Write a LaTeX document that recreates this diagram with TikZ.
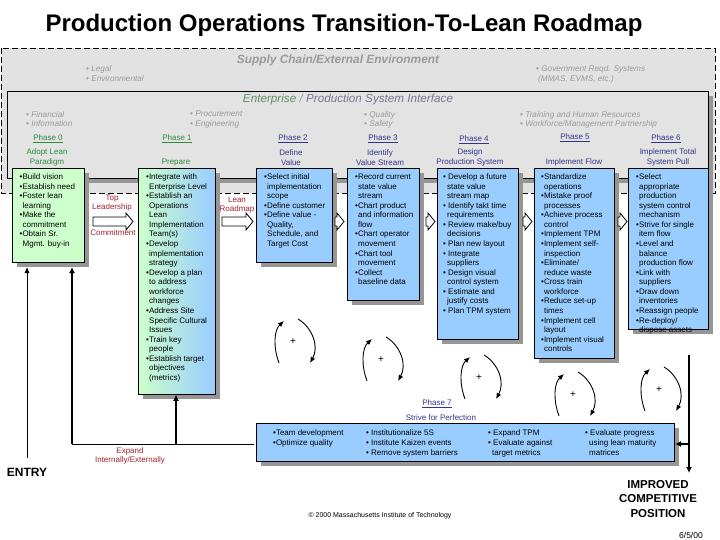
\documentclass[tikz,border=0pt]{standalone}
\usepackage{fontspec}
\setmainfont{Liberation Sans}
\usetikzlibrary{arrows.meta, shadows}
\definecolor{boxgreen}{HTML}{CCFFCC}
\definecolor{boxblue}{HTML}{99CCFF}
\definecolor{shadowgray}{HTML}{969696}
\definecolor{bandgray}{HTML}{E2E2E2}
\definecolor{softgray}{HTML}{9A9A9A}
\definecolor{phasegreen}{HTML}{2E8B3A}
\definecolor{phasenavy}{HTML}{33338C}
\definecolor{notered}{HTML}{A0202C}
\newcommand{\tinyfont}{\fontsize{8}{9.57}\selectfont}
\tikzset{
	blockbox/.style={draw=black, line width=0.8pt, anchor=north west, inner sep=0pt,
		drop shadow={shadow xshift=5pt, shadow yshift=-5pt, fill=shadowgray, opacity=1}},
	listtext/.style={anchor=north west, align=left, inner sep=0pt, font=\tinyfont},
	softtext/.style={listtext, text=softgray, font=\fontsize{8.2}{9.8}\selectfont\itshape},
	phasetext/.style={inner sep=0pt, font=\tinyfont},
	rednote/.style={inner sep=0pt, align=center, text=notered, font=\tinyfont},
	bigarrow/.style={draw=black, fill=white, line width=0.8pt},
	thinflow/.style={line width=0.9pt, -{Latex[length=6pt,width=5pt]}},
	thickflow/.style={line width=1.8pt, -{Latex[length=6pt,width=6pt]}},
	cyclearrow/.style={line width=0.9pt, -{Latex[length=6pt,width=5pt]}},
}

\begin{document}
\begin{tikzpicture}[x=1pt, y=-1pt, line cap=butt, line join=miter]
\useasboundingbox (0,0) rectangle (720,540);

\node[inner sep=0pt, font=\fontsize{24}{26}\selectfont\bfseries] (title) at (344,25.5)
	{Production Operations Transition-To-Lean Roadmap};

% ================= Bands =================
\fill[bandgray] (1,48) rectangle (715,193);
\draw[dashed, line width=0.8pt, dash pattern=on 6pt off 3pt] (1,48) rectangle (715,193);
\fill[shadowgray] (12,96) rectangle (713,183);
\fill[bandgray!95!white, draw=black, line width=0.8pt] (7,91) rectangle (708,178);

\node[inner sep=0pt, text=softgray, font=\fontsize{11.9}{13}\selectfont\bfseries\itshape] (supply) at (338,60)
	{Supply Chain/External Environment};
\node[softtext] (legal) at (86,65.5) {• Legal\\• Environmental};
\node[softtext] (government) at (536,65.5) {• Government Reqd. Systems\\\hspace*{2pt}(MMAS, EVMS, etc.)};
\node[inner sep=0pt, font=\fontsize{11.7}{13}\selectfont\itshape] (interface) at (348,99.5)
	{\textcolor{phasegreen!60!softgray}{Enterprise} \textcolor{softgray}{/} \textcolor{phasenavy!35!softgray}{Production System Interface}};
\node[softtext] (financial) at (26,111) {• Financial\\• Information};
\node[softtext] (procurement) at (190,111) {• Procurement\\• Engineering};
\node[softtext] (quality) at (364,111) {• Quality\\• Safety};
\node[softtext] (training) at (520,111) {• Training and Human Resources\\• Workforce/Management Partnership};

% ================= Phase headings =================
\foreach \px/\py/\pnum/\pcol in {48/138.5/0/phasegreen, 177/138.5/1/phasegreen, 293/138.5/2/phasenavy,
	383/138.5/3/phasenavy, 474/139.5/4/phasenavy, 575/137.5/5/phasenavy, 666/138.5/6/phasenavy, 437/403.5/7/phasenavy}
	\node[phasetext, text=\pcol] (phase\pnum) at (\px,\py) {\underline{Phase \pnum}};

\node[rednote, text=phasegreen] (adopt) at (47,157.5) {Adopt Lean\\Paradigm};
\node[rednote, text=phasegreen] (prepare) at (176,162.5) {Prepare};
\node[rednote, text=phasenavy] (define) at (291,157.5) {Define\\Value};
\node[rednote, text=phasenavy] (identify) at (380,157.5) {Identify\\Value Stream};
\node[rednote, text=phasenavy] (design) at (470,157.5) {Design\\Production System};
\node[rednote, text=phasenavy] (flow) at (574,162.5) {Implement Flow};
\node[rednote, text=phasenavy] (pull) at (668,157.5) {Implement Total\\System Pull};
\node[rednote, text=phasenavy] (strive) at (441,418) {Strive for Perfection};

% ================= Phase boxes =================
\node[blockbox, fill=boxgreen, minimum width=72pt, minimum height=94pt] (box0) at (12,168) {};
\node[blockbox, left color=boxgreen, right color=boxblue, minimum width=77pt, minimum height=226pt] (box1) at (138,168) {};
\node[blockbox, fill=boxblue, minimum width=76pt, minimum height=94pt] (box2) at (256,168) {};
\node[blockbox, fill=boxblue, minimum width=72pt, minimum height=132pt] (box3) at (347,168) {};
\node[blockbox, fill=boxblue, minimum width=81pt, minimum height=171pt] (box4) at (437,168) {};
\node[blockbox, fill=boxblue, minimum width=80pt, minimum height=190pt] (box5) at (534,168) {};
\node[blockbox, fill=boxblue, minimum width=80pt, minimum height=161pt] (box6) at (628,168) {};
\node[blockbox, fill=boxblue, minimum width=418pt, minimum height=38pt] (box7) at (256,423) {};

\node[listtext] (text0) at (19.5,173.5) {•Build vision\\•Establish need\\•Foster lean\\\hspace*{3pt}learning\\•Make the\\\hspace*{3pt}commitment\\•Obtain Sr.\\\hspace*{3pt}Mgmt. buy-in};
\node[listtext] (text1) at (146,173.5) {•Integrate with\\\hspace*{3pt}Enterprise Level\\•Establish an\\\hspace*{3pt}Operations\\\hspace*{3pt}Lean\\\hspace*{3pt}Implementation\\\hspace*{3pt}Team(s)\\•Develop\\\hspace*{3pt}implementation\\\hspace*{3pt}strategy\\•Develop a plan\\\hspace*{3pt}to address\\\hspace*{3pt}workforce\\\hspace*{3pt}changes\\•Address Site\\\hspace*{3pt}Specific Cultural\\\hspace*{3pt}Issues\\•Train key\\\hspace*{3pt}people\\•Establish target\\\hspace*{3pt}objectives\\\hspace*{3pt}(metrics)};
\node[listtext] (text2) at (264,173.5) {•Select initial\\\hspace*{3pt}implementation\\\hspace*{3pt}scope\\•Define customer\\•Define value -\\\hspace*{3pt}Quality,\\\hspace*{3pt}Schedule, and\\\hspace*{3pt}Target Cost};
\node[listtext] (text3) at (355,173.5) {•Record current\\\hspace*{3pt}state value\\\hspace*{3pt}stream\\•Chart product\\\hspace*{3pt}and information\\\hspace*{3pt}flow\\•Chart operator\\\hspace*{3pt}movement\\•Chart tool\\\hspace*{3pt}movement\\•Collect\\\hspace*{3pt}baseline data};
\node[listtext] (text4) at (443,173.5) {• Develop a future\\\hspace*{4pt}state value\\\hspace*{4pt}stream map\\• Identify takt time\\\hspace*{4pt}requirements\\• Review make/buy\\\hspace*{4pt}decisions\\• Plan new layout\\• Integrate\\\hspace*{4pt}suppliers\\• Design visual\\\hspace*{4pt}control system\\• Estimate and\\\hspace*{4pt}justify costs\\• Plan TPM system};
\node[listtext] (text5) at (541,173.5) {•Standardize\\\hspace*{3pt}operations\\•Mistake proof\\\hspace*{3pt}processes\\•Achieve process\\\hspace*{3pt}control\\•Implement TPM\\•Implement self-\\\hspace*{3pt}inspection\\•Eliminate/\\\hspace*{3pt}reduce waste\\•Cross train\\\hspace*{3pt}workforce\\•Reduce set-up\\\hspace*{3pt}times\\•Implement cell\\\hspace*{3pt}layout\\•Implement visual\\\hspace*{3pt}controls};
\node[listtext] (text6) at (636,173.5) {•Select\\\hspace*{3pt}appropriate\\\hspace*{3pt}production\\\hspace*{3pt}system control\\\hspace*{3pt}mechanism\\•Strive for single\\\hspace*{3pt}item flow\\•Level and\\\hspace*{3pt}balance\\\hspace*{3pt}production flow\\•Link with\\\hspace*{3pt}suppliers\\•Draw down\\\hspace*{3pt}inventories\\•Reassign people\\•Re-deploy/\\\hspace*{3pt}dispose assets};
\node[listtext] (team) at (273,430) {•Team development\\•Optimize quality};
\node[listtext] (kaizen) at (366,430) {• Institutionalize 5S\\• Institute Kaizen events\\• Remove system barriers};
\node[listtext] (expandtpm) at (488,430) {• Expand TPM\\• Evaluate against\\\hspace*{4pt}target metrics};
\node[listtext] (evaluate) at (585,430) {• Evaluate progress\\\hspace*{4pt}using lean maturity\\\hspace*{4pt}matrices};

% ================= Arrows between phases =================
\foreach \ax/\bx in {93/133, 222/253, 335/344, 426/435, 523/532, 618/627}
	\draw[bigarrow] (\ax,217) -- (\bx-7,217) -- (\bx-7,213) -- (\bx,221.5) -- (\bx-7,230)
		-- (\bx-7,226) -- (\ax,226) -- cycle;

\node[rednote] (top) at (112,203) {Top\\Leadership};
\node[rednote] (commitment) at (113,233) {Commitment};
\node[rednote] (roadmap) at (237,205) {Lean\\Roadmap};
\node[rednote] (expand) at (130,456) {Expand\\Internally/Externally};

% ================= Improvement cycles =================
\foreach \cx/\cy/\cnum in {293/342/a, 381/360/b, 479/378/c, 573/395/d, 659/390/e}{
	\begin{scope}[shift={(\cx,\cy)}]
		\node[inner sep=0pt, font=\fontsize{10}{12}\selectfont] (plus\cnum) at (0,0) {+};
		\draw[cyclearrow] (-14,21) .. controls (-20,5) and (-19,-12) .. (-9,-21);
		\draw[cyclearrow] (5,-23) .. controls (20,-14) and (26,5) .. (17,21);
	\end{scope}
}

% ================= Entry and exit =================
\node[inner sep=0pt, font=\fontsize{12}{14}\selectfont\bfseries] (entry) at (27,472.5) {ENTRY};
\coordinate (entrybase) at (27,458);
\coordinate (entrytop) at (27,267);
\coordinate (expandtop) at (72,267);
\coordinate (expandbase) at (72,444);
\coordinate (expandmid) at (176,444);
\coordinate (expandend) at (254,444);
\coordinate (exittop) at (689,355);
\coordinate (exitmid) at (689,444);
\coordinate (exitend) at (689,473);
\coordinate (exitbox) at (675,444);
\draw[thinflow] (entrybase) -- (entrytop);
\draw[thickflow] (expandbase) -- (expandtop);
\draw[line width=0.9pt] (expandbase) -- (expandend);
\draw[thickflow] (expandmid) -- (box1.south -| expandmid);
\draw[thickflow] (exittop) -- (exitend);
\draw[thickflow] (exitmid) -- (exitbox);

\node[inner sep=0pt, align=center, font=\fontsize{11.5}{14.6}\selectfont\bfseries] (improved) at (658,499)
	{IMPROVED\\COMPETITIVE\\POSITION};
\node[inner sep=0pt, font=\fontsize{7}{9}\selectfont] (copyright) at (380,516) {© 2000 Massachusetts Institute of Technology};
\node[inner sep=0pt, anchor=east, font=\fontsize{8.5}{10}\selectfont] (date) at (703,535) {6/5/00};

\end{tikzpicture}
\end{document}
